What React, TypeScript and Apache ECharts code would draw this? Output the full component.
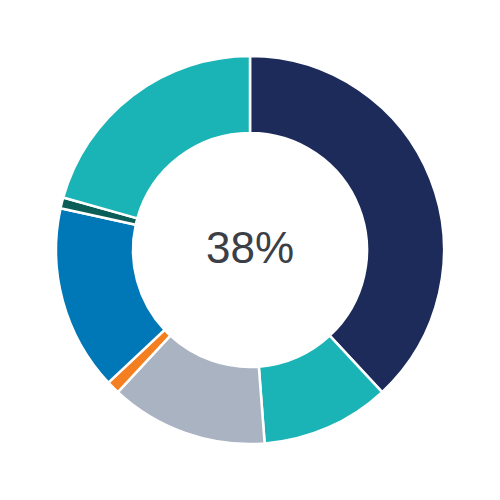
import { useEffect, useRef } from 'react';
import * as echarts from 'echarts';

// slices clockwise from 12 o'clock
const sliceNames = ['A', 'B', 'C', 'D', 'E', 'F', 'G'];
const sliceValues = [38, 10.7, 13.1, 1.1, 15.4, 0.9, 20.6];
const sliceColors = ['#1c2b5a', '#1bb4b6', '#a9b3c1', '#f47f20', '#0077b6', '#0b5d57', '#1bb4b6'];
const centerLabel = '38%';

const App = () => {
    const chartRef = useRef<HTMLDivElement>(null);

    useEffect(() => {
        if (!chartRef.current) return;
        const chart = echarts.init(chartRef.current, undefined, { renderer: 'svg' });

        chart.setOption({
            animation: false,
            backgroundColor: '#ffffff',
            graphic: [
                {
                    type: 'text',
                    x: 250,
                    y: 247,
                    style: {
                        text: centerLabel,
                        align: 'center',
                        verticalAlign: 'middle',
                        fontSize: 44,
                        fontFamily: 'Liberation Sans, Arial, sans-serif',
                        fill: '#3b4047'
                    }
                }
            ],
            series: [
                {
                    type: 'pie',
                    center: [250, 250],
                    radius: [117, 194],
                    startAngle: 90,
                    clockwise: true,
                    label: { show: false },
                    labelLine: { show: false },
                    emphasis: { disabled: true },
                    itemStyle: { borderColor: '#ffffff', borderWidth: 2.5 },
                    data: sliceNames.map((name, i) => ({
                        name,
                        value: sliceValues[i],
                        itemStyle: { color: sliceColors[i] }
                    }))
                }
            ]
        });

        return () => {
            chart.dispose();
        };
    }, []);

    return <div ref={chartRef} style={{ position: 'fixed', left: 0, top: 0, width: 500, height: 500 }} />;
};

export default App;
